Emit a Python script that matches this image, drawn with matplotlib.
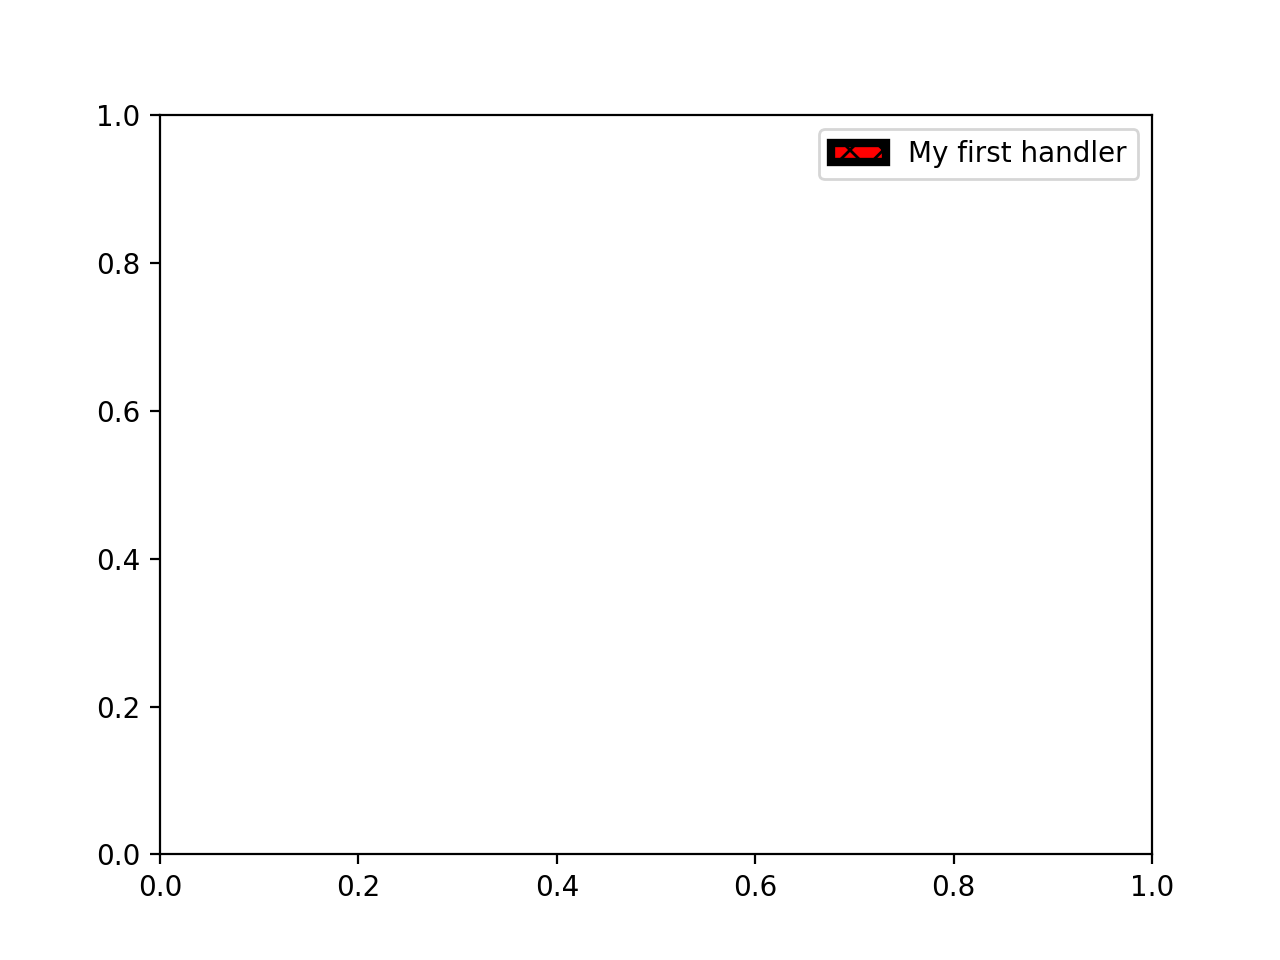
import matplotlib
matplotlib.use("Agg")
import matplotlib.pyplot as plt
import matplotlib.patches as mpatches

# legend entries
labels = ["My first handler"]


class AnyObject:
    pass


class AnyObjectHandler:
    def legend_artist(self, legend, orig_handle, fontsize, handlebox):
        x0, y0 = handlebox.xdescent, handlebox.ydescent
        width, height = handlebox.width, handlebox.height
        patch = mpatches.Rectangle([x0, y0], width, height, facecolor="red",
                                   edgecolor="black", hatch="xx", lw=3,
                                   transform=handlebox.get_transform())
        handlebox.add_artist(patch)
        return patch


fig, ax = plt.subplots(figsize=(6.4, 4.8))
ax.legend([AnyObject()], labels,
          handler_map={AnyObject: AnyObjectHandler()})
fig.savefig("out.png", dpi=200)
